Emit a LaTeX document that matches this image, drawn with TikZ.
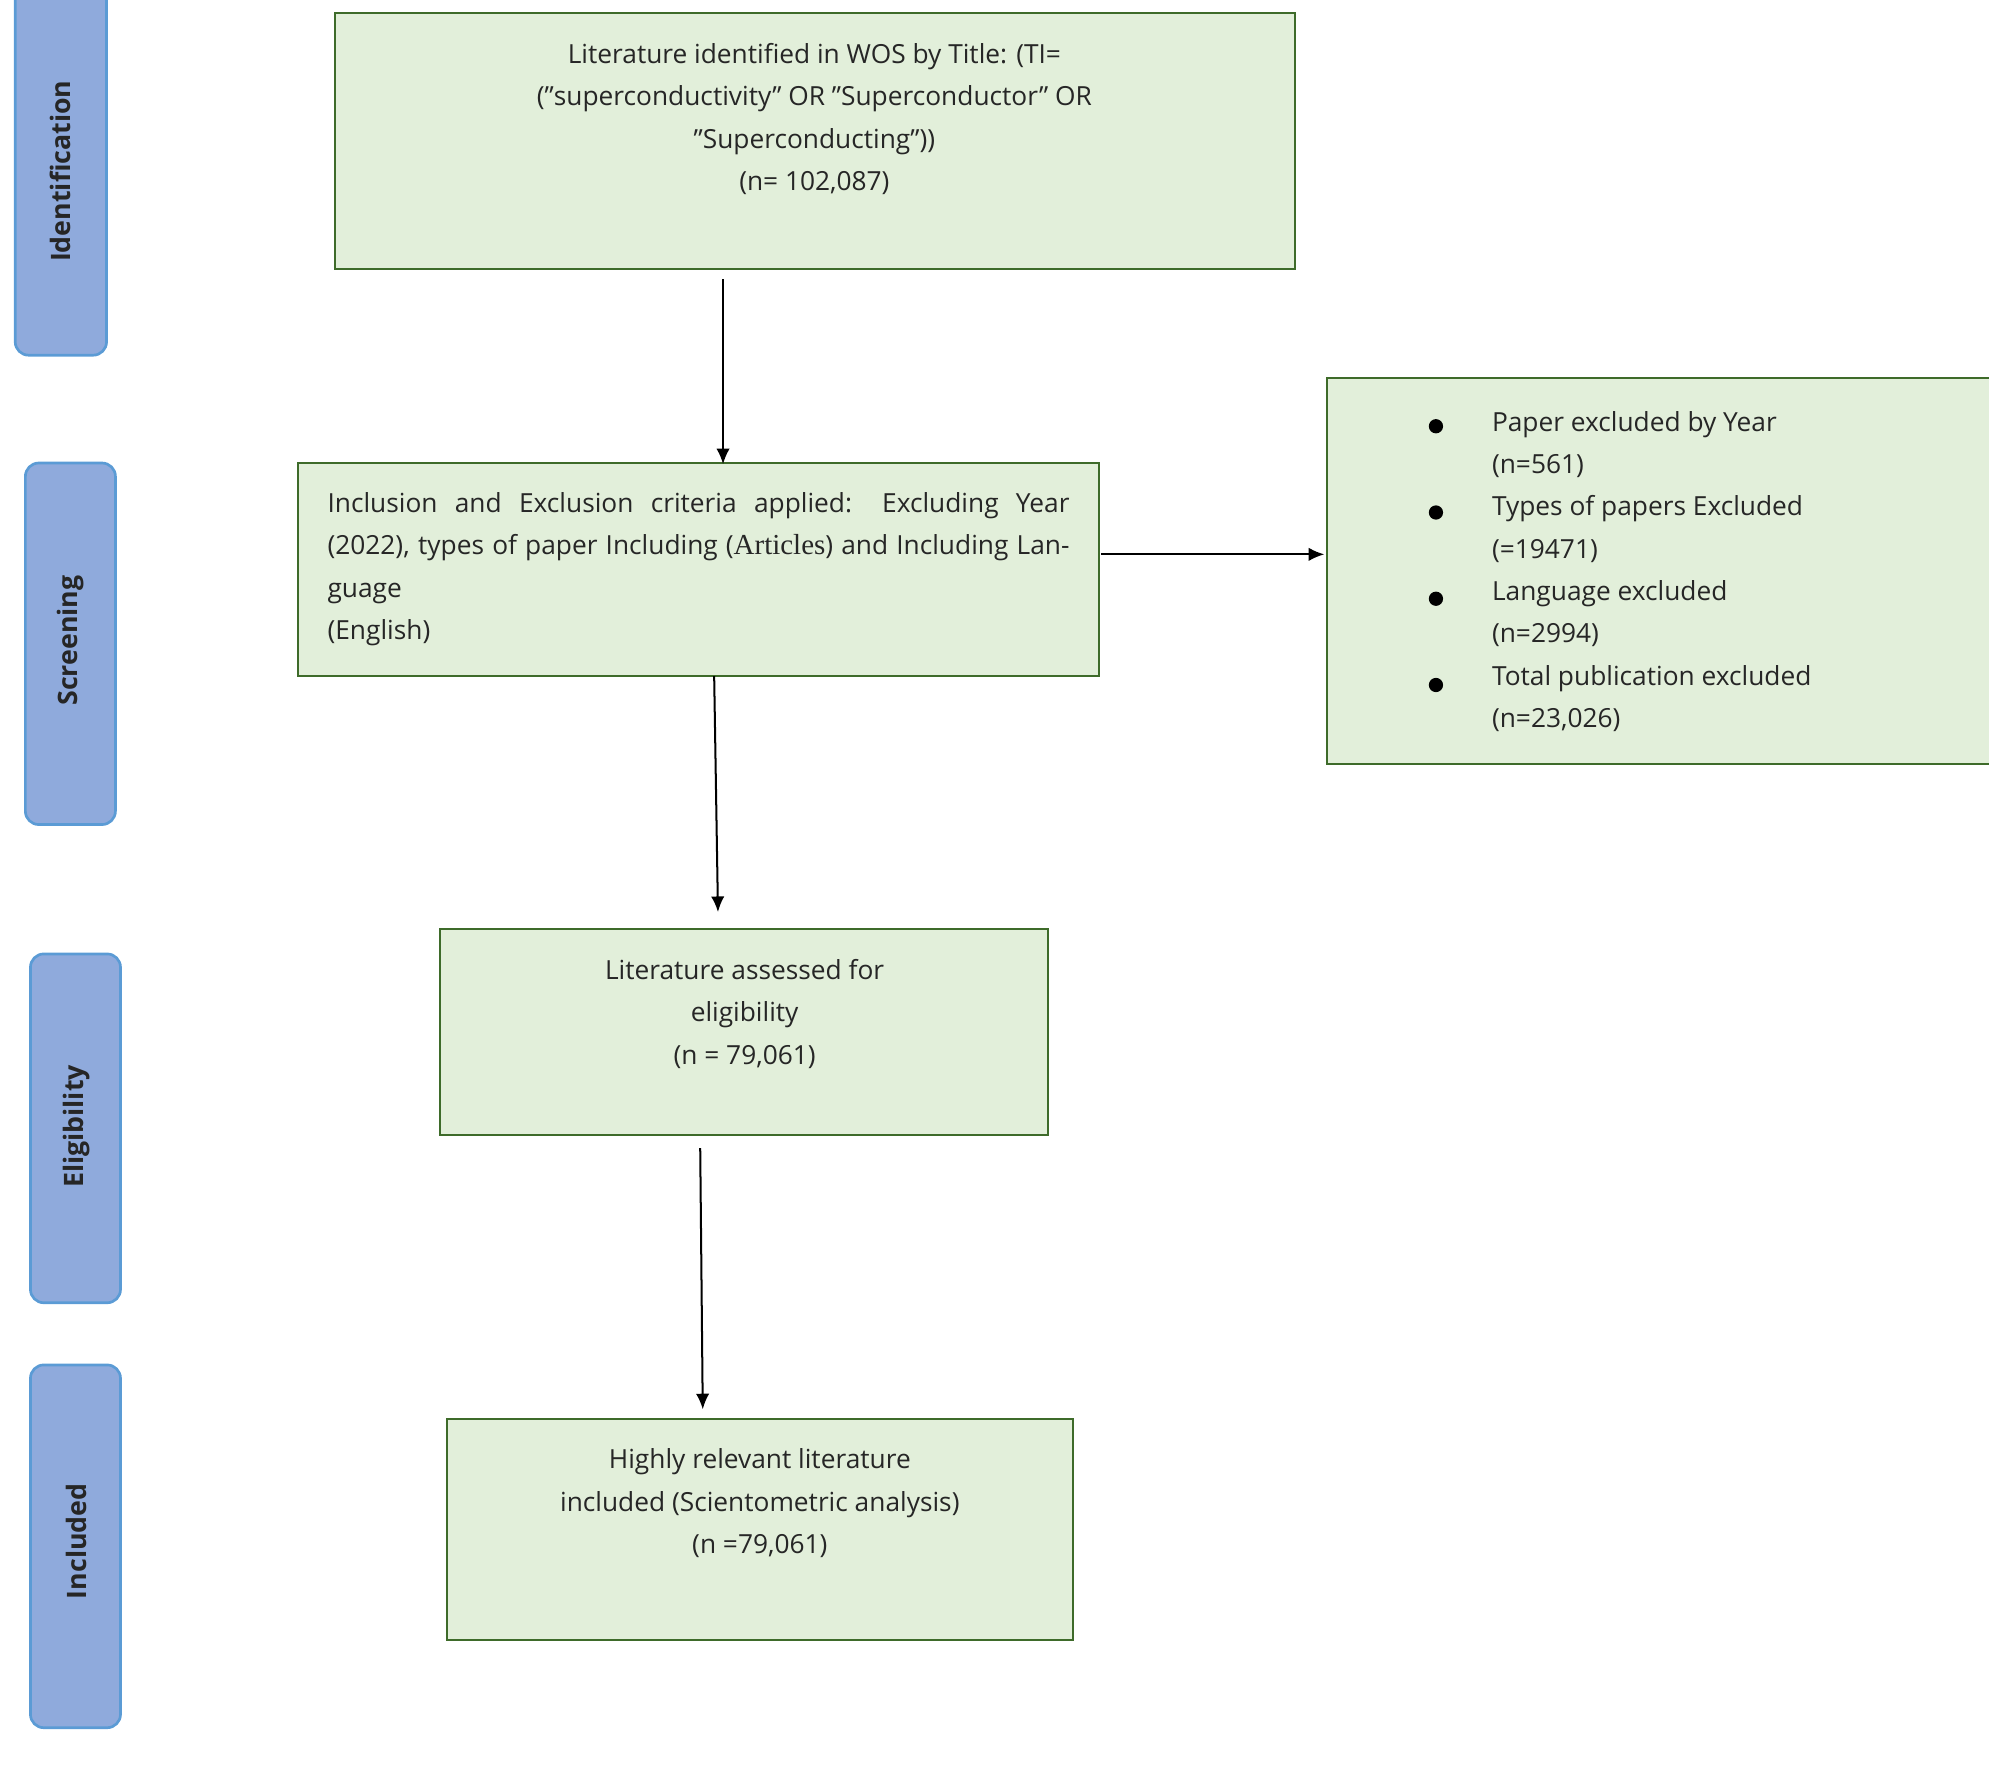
\documentclass[tikz,border=0pt]{standalone}
\usepackage{fontspec}
\setmainfont{Open Sans}
\newfontfamily\serifpart{Liberation Serif}
\usetikzlibrary{arrows.meta}
\definecolor{boxfill}{HTML}{E2EFDA}
\definecolor{boxline}{HTML}{3E6B2A}
\definecolor{sidefill}{HTML}{8FAADC}
\definecolor{sideline}{HTML}{5B9BD5}
\begin{document}
\begin{tikzpicture}[x=0.02cm,y=-0.02cm,
  box/.style={draw=boxline,fill=boxfill,line width=0.9pt,minimum width=#1*0.02cm},
  side/.style={draw=sideline,fill=sidefill,line width=1.2pt,rounded corners=6pt},
  sidetext/.style={rotate=90,font=\bfseries\fontsize{12}{14}\selectfont,text=black!85},
  arr/.style={-{Latex[length=7pt,width=6pt]},line width=0.9pt},
  txt/.style={font=\fontsize{11.8}{19}\selectfont,text=black!85}]
\useasboundingbox (0,0) rectangle (1568,1401);
\clip (0,0) rectangle (1568,1401);
% side labels
\draw[side] (12,-10) rectangle (84,280); \node[sidetext] (sId) at (48,135) {Identification};
\draw[side] (20,365) rectangle (91,650); \node[sidetext] (sSc) at (56,505) {Screening};
\draw[side] (24,752) rectangle (95,1027); \node[sidetext] (sEl) at (60,888) {Eligibility};
\draw[side] (24,1076) rectangle (95,1362); \node[sidetext] (sIn) at (60,1215) {Included};
% boxes
\draw[draw=boxline,fill=boxfill,line width=0.9pt] (264,10) rectangle (1021,212);
\node[txt,align=center,anchor=north] (b1) at (642,28) {Literature identified in WOS by Title: (TI=\\("superconductivity" OR "Superconductor" OR\\"Superconducting"))\\(n= 102,087)};
\draw[draw=boxline,fill=boxfill,line width=0.9pt] (235,365) rectangle (866,533);
\node[txt,anchor=north west,text width=11.7cm,align=justify] (b2) at (252,382) {Inclusion and Exclusion criteria applied: Excluding Year (2022), types of paper Including ({\serifpart\fontsize{13}{19}\selectfont Articles}) and Including Language\\(English)};
\draw[draw=boxline,fill=boxfill,line width=0.9pt] (1046,298) rectangle (1600,602);
\node[txt,anchor=north west,align=left] (b3) at (1170,318) {Paper excluded by Year\\(n=561)\\Types of papers Excluded\\(=19471)\\Language excluded\\(n=2994)\\Total publication excluded\\(n=23,026)};
\foreach \yy in {336,404,472,540} \fill (1132,\yy) circle (3.2pt);
\draw[draw=boxline,fill=boxfill,line width=0.9pt] (347,732) rectangle (826,895);
\node[txt,align=center,anchor=north] (b4) at (587,750) {Literature assessed for\\eligibility\\(n = 79,061)};
\draw[draw=boxline,fill=boxfill,line width=0.9pt] (352,1119) rectangle (846,1293);
\node[txt,align=center,anchor=north] (b5) at (599,1136) {Highly relevant literature\\included (Scientometric analysis)\\(n =79,061)};
% arrows
\coordinate (a1s) at (570,220); \coordinate (a1e) at (570,366);
\coordinate (a2s) at (563,533); \coordinate (a2e) at (566,719);
\coordinate (a3s) at (552,905); \coordinate (a3e) at (554,1111);
\coordinate (a4s) at (868,437); \coordinate (a4e) at (1044,437);
\draw[arr] (a1s) -- (a1e);
\draw[arr] (a2s) -- (a2e);
\draw[arr] (a3s) -- (a3e);
\draw[arr] (a4s) -- (a4e);
\end{tikzpicture}
\end{document}
